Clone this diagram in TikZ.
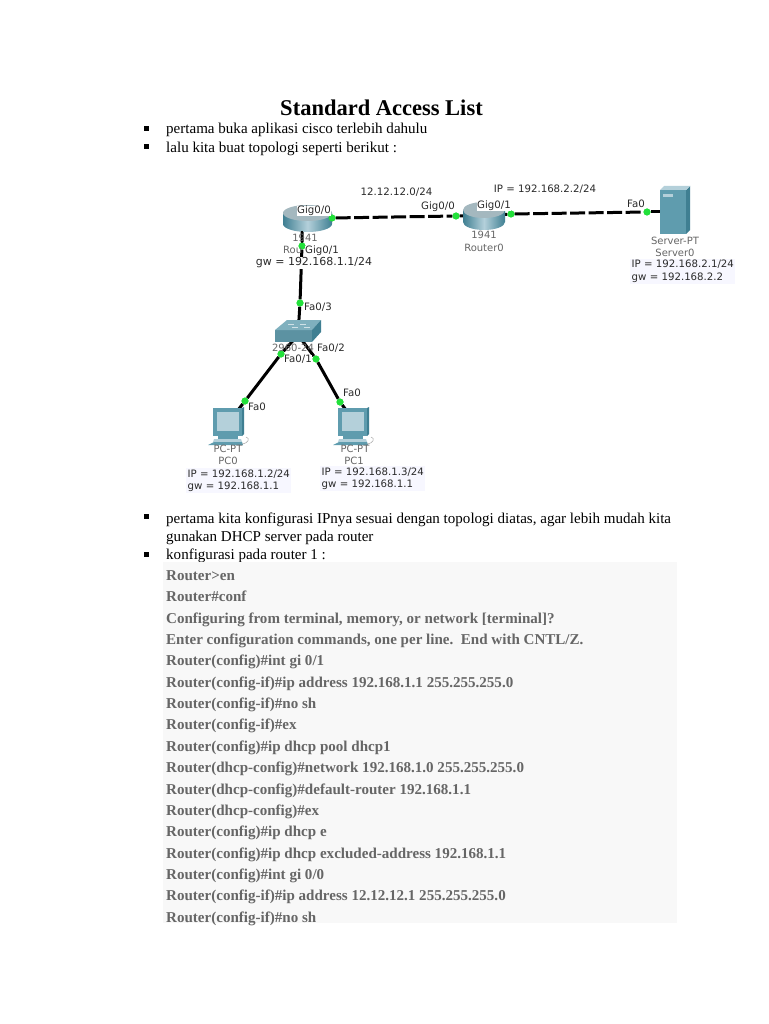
\documentclass[tikz,border=0pt]{standalone}
\usepackage{fontspec}
\setmainfont{Liberation Serif}
\setsansfont{DejaVu Sans}
\definecolor{teal1}{HTML}{5F9CAE}
\definecolor{teal2}{HTML}{3F7F92}
\definecolor{teal3}{HTML}{B4D0DA}
\definecolor{codebg}{HTML}{F8F8F8}
\definecolor{codefg}{HTML}{666666}
\definecolor{lbl}{HTML}{2A2A2A}
\definecolor{devlbl}{HTML}{666666}
\definecolor{green1}{HTML}{22E03A}
\tikzset{
  body/.style={anchor=base west,inner sep=0pt,font=\fontsize{15.05}{17}\selectfont,text=black},
  code/.style={anchor=base west,inner sep=0pt,font=\fontsize{15.05}{17}\selectfont\bfseries,text=codefg},
  bul/.style={fill=black,minimum size=5pt,inner sep=0pt},
  port/.style={circle,fill=green1,minimum size=7pt,inner sep=0pt},
  link/.style={black,line width=3pt},
  dlink/.style={black,line width=3pt,dash pattern=on 15pt off 3.5pt},
  tag/.style={inner sep=1pt,font=\sffamily\fontsize{10.2}{12}\selectfont,text=lbl},
  wtag/.style={tag,fill=white},
  dev/.style={inner sep=0pt,font=\sffamily\fontsize{10}{12}\selectfont,text=devlbl},
  note/.style={inner sep=1.5pt,fill=blue!3,font=\sffamily\fontsize{10.2}{12.6}\selectfont,text=lbl,align=left}
}
\newcommand{\routerdraw}[4]{% cx, cy-top, rx, h
  \shade[left color=teal2,right color=teal2,middle color=teal3]
    (#1-#3,#2) -- (#1-#3,#2+#4) arc[start angle=180,end angle=0,x radius=#3,y radius=8] -- (#1+#3,#2) -- cycle;
  \fill[teal3!70!gray] (#1,#2) ellipse[x radius=#3,y radius=8];
}
\newcommand{\pcdraw}[2]{% left x, top y
  \fill[teal1] (#1,#2) -- (#1+29,#2) -- (#1+29,#2+28) -- (#1,#2+28) -- cycle;
  \fill[teal3] (#1+4,#2+4) rectangle (#1+26,#2+23);
  \fill[teal2] (#1+29,#2) -- (#1+31,#2-1) -- (#1+31,#2+26) -- (#1+29,#2+28) -- cycle;
  \fill[teal1] (#1+5,#2+28) rectangle (#1+25,#2+31);
  \fill[teal3] (#1+1,#2+31) -- (#1+28,#2+31) -- (#1+29,#2+34) -- (#1,#2+34) -- cycle;
  \fill[teal1] (#1-5,#2+37) -- (#1+1,#2+34) -- (#1+29,#2+34) -- (#1+30,#2+37) -- cycle;
  \draw[gray!70,line width=.5pt] (#1+29,#2+36) .. controls (#1+36,#2+35) and (#1+37,#2+30) .. (#1+33,#2+29);
}
\begin{document}
\begin{tikzpicture}[x=1pt,y=-1pt]
\useasboundingbox (0,0) rectangle (768,1024);
\fill[white] (0,0) rectangle (768,1024);

\node[anchor=base,inner sep=0pt,font=\fontsize{22.5}{25}\selectfont\bfseries] (title) at (381.5,115.5) {Standard Access List};

\node[bul] (b1) at (146,129) {};
\node[body] (t1) at (166,133.5) {pertama buka aplikasi cisco terlebih dahulu};
\node[bul] (b2) at (146,147) {};
\node[body] (t2) at (166,152.5) {lalu kita buat topologi seperti berikut :};
\node[bul] (b3) at (146,516) {};
\node[body] (t3) at (166,523) {pertama kita konfigurasi IPnya sesuai dengan topologi diatas, agar lebih mudah kita};
\node[body] (t4) at (166,541) {gunakan DHCP server pada router};
\node[bul] (b4) at (146,554) {};
\node[body] (t5) at (166,559) {konfigurasi pada router 1 :};

% code panel
\fill[codebg] (163,562) rectangle (677,923);
\foreach \i/\s in {0/{Router>en},1/{Router\#conf},2/{Configuring from terminal, memory, or network [terminal]?},3/{Enter configuration commands, one per line.\ \ End with CNTL/Z.},4/{Router(config)\#int gi 0/1},5/{Router(config-if)\#ip address 192.168.1.1 255.255.255.0},6/{Router(config-if)\#no sh},7/{Router(config-if)\#ex},8/{Router(config)\#ip dhcp pool dhcp1},9/{Router(dhcp-config)\#network 192.168.1.0 255.255.255.0},10/{Router(dhcp-config)\#default-router 192.168.1.1},11/{Router(dhcp-config)\#ex},12/{Router(config)\#ip dhcp e},13/{Router(config)\#ip dhcp excluded-address 192.168.1.1},14/{Router(config)\#int gi 0/0},15/{Router(config-if)\#ip address 12.12.12.1 255.255.255.0},16/{Router(config-if)\#no sh}}{
  \node[code] (c\i) at (166,{580.5+21.35*\i}) {\s};
}

% ports
\node[port] (p1) at (332,218) {};
\node[port] (p2) at (456,216) {};
\node[port] (p3) at (511,214) {};
\node[port] (p4) at (647,212) {};
\node[port] (p5) at (302,246) {};
\node[port] (p6) at (300,303) {};
\node[port] (p7) at (281,354) {};
\node[port] (p8) at (316,359) {};
\node[port] (p9) at (245,401) {};
\node[port] (p10) at (340,402) {};
\coordinate (rA) at (302,222);
\coordinate (rB) at (484,216);
\coordinate (sw) at (298,335);
\coordinate (srv) at (665,212);
\coordinate (pcA) at (238,410);
\coordinate (pcB) at (346,410);

% links
\draw[dlink] (p1) -- (p2);
\draw[dlink] (p3) -- (p4);
\draw[link] (rA) -- (p1);
\draw[link] (p2) -- (rB) -- (p3);
\draw[link] (p4) -- (srv);
\draw[link] (rA) -- (p5) -- (p6) -- (sw);
\draw[link] (sw) -- (p7) -- (p9) -- (pcA);
\draw[link] (sw) -- (p8) -- (p10) -- (pcB);

% routers
\routerdraw{307.5}{213}{24.5}{11}
\routerdraw{484}{210}{21}{12}
% line from router 1 drawn over its lower edge, as in the reference
\draw[black,line width=2pt] (302,231) -- (302,246);
% ports repeated on top of devices
\foreach \n/\x/\y in {a/332/218,b/456/216,c/511/214,d/647/212,e/302/246,f/300/303,g/281/354,h/316/359,i/245/401,j/340/402}{
  \fill[green1] (\x,\y) circle (3.5);
}

% switch
\fill[teal2!85] (275,330) -- (312,330) -- (312,342) -- (275,342) -- cycle;
\fill[teal1!80] (275,330) -- (287,320) -- (321,320) -- (312,330) -- cycle;
\fill[teal2] (312,330) -- (321,320) -- (321,332) -- (312,342) -- cycle;
\foreach \a/\b in {288/324,300/324,292/327,304/327}{ \draw[white!70!teal1,line width=.7pt] (\a,\b) -- ++(6,0); }

% server
\fill[teal1] (660,190) rectangle (686,234);
\fill[teal2] (686,190) -- (690,186) -- (690,230) -- (686,234) -- cycle;
\fill[teal3] (660,190) -- (664,186) -- (690,186) -- (686,190) -- cycle;
\fill[teal3] (663,194) rectangle (673,197);

% PCs
\pcdraw{213}{408}
\pcdraw{338}{408}

% labels
\node[tag] (l1) at (396.5,192) {12.12.12.0/24};
\node[tag] (l2) at (545,189) {IP = 192.168.2.2/24};
\node[wtag,inner sep=.5pt] (l3) at (314,211) {Gig0/0};
\node[tag] (l4) at (438,207) {Gig0/0};
\node[wtag,inner sep=.5pt] (l5) at (494,206) {Gig0/1};
\node[tag] (l6) at (636,204) {Fa0};
\node[dev] (d1) at (305,238) {1941};
\node[dev] (d2) at (484,235) {1941};
\node[dev] (d3) at (484,248) {Router0};
\node[dev,anchor=west] (d4) at (283,250) {Rou};
\node[wtag,inner sep=0pt] (l7) at (322,251) {Gig0/1};
\node[wtag,inner sep=1pt,font=\sffamily\fontsize{11}{12}\selectfont] (l8) at (314,263) {gw = 192.168.1.1/24};
\node[tag] (l9) at (318,307) {Fa0/3};
\node[dev] (d5) at (293,348) {2960-24};
\node[tag] (l10) at (331,348) {Fa0/2};
\node[wtag,inner sep=0pt] (l11) at (298,359) {Fa0/1};
\node[tag] (l12) at (352,393) {Fa0};
\node[tag] (l13) at (257,407) {Fa0};
\node[dev] (d6) at (228,449) {PC-PT};
\node[dev] (d7) at (228,461) {PC0};
\node[dev] (d8) at (355,449) {PC-PT};
\node[dev] (d9) at (354,461) {PC1};
\node[dev] (d10) at (675,241) {Server-PT};
\node[dev] (d11) at (675,253) {Server0};
\node[note,anchor=north west] (n1) at (186,468) {IP = 192.168.1.2/24\\gw = 192.168.1.1};
\node[note,anchor=north west] (n2) at (320,466) {IP = 192.168.1.3/24\\gw = 192.168.1.1};
\node[note,anchor=north west] (n3) at (630,258.5) {IP = 192.168.2.1/24\\gw = 192.168.2.2};
\end{tikzpicture}
\end{document}
